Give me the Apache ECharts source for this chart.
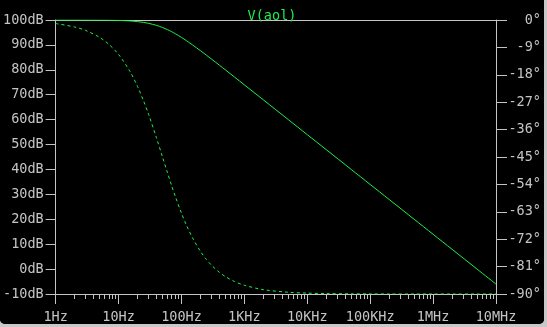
<!DOCTYPE html>
<html>
<head>
<meta charset="utf-8">
<script src="https://cdn.jsdelivr.net/npm/echarts@6/dist/echarts.min.js"></script>
<style>
  html, body { margin: 0; padding: 0; background: #c8c8c8; }
  #chart { width: 544px; height: 324px; background: #000; border-bottom-left-radius: 5px; border-bottom-right-radius: 5px; overflow: hidden; }
</style>
</head>
<body>
<div id="chart"></div>
<script>
// Frequencies (Hz)
const freqs = [1, 2, 3, 5, 7, 10, 15, 20, 25, 30, 40, 50, 60, 70, 80, 100, 120, 150, 200, 250, 300, 400, 500, 700,
  1000, 2000, 5000, 10000, 20000, 50000, 100000, 200000, 500000, 1000000, 2000000, 5000000, 10000000];
// Magnitude of V(aol) in dB
const magnitudeDb = [100.00, 99.99, 99.98, 99.96, 99.92, 99.83, 99.63, 99.36, 99.03, 98.66, 97.85, 96.99, 96.13, 95.29, 94.49,
  93.01, 91.70, 90.00, 87.70, 85.85, 84.32, 81.87, 79.96, 77.06,
  73.97, 67.96, 60.00, 53.98, 47.96, 40.00, 33.98, 27.96, 20.00, 13.98, 7.96, 0.00, -6.02];
// Phase of V(aol) in degrees
const phaseDeg = [-1.15, -2.29, -3.43, -5.71, -7.97, -11.31, -16.70, -21.80, -26.57, -30.96, -38.66, -45.00, -50.19, -54.46, -57.99,
  -63.43, -67.38, -71.57, -75.96, -78.69, -80.54, -82.87, -84.29, -85.91,
  -87.14, -88.57, -89.43, -89.71, -89.86, -89.94, -89.97, -89.99, -90.00, -90.00, -90.00, -90.00, -90.00];
// Tick labels
const xTickLabels = ['1Hz', '10Hz', '100Hz', '1KHz', '10KHz', '100KHz', '1MHz', '10MHz'];
const xMinorMultipliers = [2, 3, 4, 5, 6, 7, 8, 9];

const GREY = '#c4c4c4';
const GREEN = '#1ef04a';
const FONT = 'DejaVu Sans Mono';

const minorTicks = [];
for (let d = 0; d < 7; d++) {
  for (const m of xMinorMultipliers) minorTicks.push(m * Math.pow(10, d));
}

const magData = freqs.map((f, i) => [f, magnitudeDb[i]]);
const phaseData = freqs.map((f, i) => [f, phaseDeg[i]]);

const chart = echarts.init(document.getElementById('chart'), null, { renderer: 'canvas' });
const labelStyle = { color: GREY, fontFamily: FONT, fontSize: 13.5 };

chart.setOption({
  backgroundColor: '#000',
  animation: false,
  title: {
    text: 'V(aol)', left: 'center', top: 4,
    textStyle: { color: GREEN, fontFamily: FONT, fontSize: 13.5, fontWeight: 'normal' }
  },
  grid: { left: 52, top: 20, width: 444, height: 275, containLabel: false },
  xAxis: [
    {
      type: 'log', logBase: 10, min: 1, max: 10000000, position: 'bottom',
      axisLine: { show: true, onZero: false, lineStyle: { color: GREY, width: 1 } },
      axisTick: { show: true, inside: false, length: 10, lineStyle: { color: GREY } },
      axisLabel: Object.assign({ margin: 16, formatter: v => xTickLabels[Math.round(Math.log10(v))] }, labelStyle),
      splitLine: { show: false },
      minorTick: { show: false }
    },
    {
      type: 'log', logBase: 10, min: 1, max: 10000000, position: 'bottom',
      axisLine: { show: false, onZero: false },
      axisTick: { show: true, inside: false, length: 5, customValues: minorTicks, lineStyle: { color: GREY } },
      axisLabel: { show: false },
      splitLine: { show: false }
    },
    {
      type: 'log', logBase: 10, min: 1, max: 10000000, position: 'top',
      axisLine: { show: true, onZero: false, lineStyle: { color: GREY, width: 1 } },
      axisTick: { show: false },
      axisLabel: { show: false },
      splitLine: { show: false }
    }
  ],
  yAxis: [
    {
      type: 'value', min: -10, max: 100, interval: 10, position: 'left',
      axisLine: { show: true, onZero: false, lineStyle: { color: GREY, width: 1 } },
      axisTick: { show: true, inside: false, length: 10, lineStyle: { color: GREY } },
      axisLabel: Object.assign({ margin: 12, formatter: '{value}dB', padding: [4, 0, 0, 0] }, labelStyle),
      splitLine: { show: false }
    },
    {
      type: 'value', min: -90, max: 0, interval: 9, position: 'right',
      axisLine: { show: true, onZero: false, lineStyle: { color: GREY, width: 1 } },
      axisTick: { show: true, inside: false, length: 11, lineStyle: { color: GREY } },
      axisLabel: Object.assign({ margin: 45, align: 'right', formatter: '{value}°', padding: [4, 0, 0, 0] }, labelStyle),
      splitLine: { show: false }
    }
  ],
  series: [
    {
      name: 'magnitude', type: 'line', xAxisIndex: 0, yAxisIndex: 0,
      data: magData, showSymbol: false, smooth: 0.3,
      lineStyle: { color: GREEN, width: 1 }
    },
    {
      name: 'phase', type: 'line', xAxisIndex: 0, yAxisIndex: 1,
      data: phaseData, showSymbol: false, smooth: 0.3,
      lineStyle: { color: GREEN, width: 1, type: [3, 3] }
    }
  ]
});
</script>
</body>
</html>
